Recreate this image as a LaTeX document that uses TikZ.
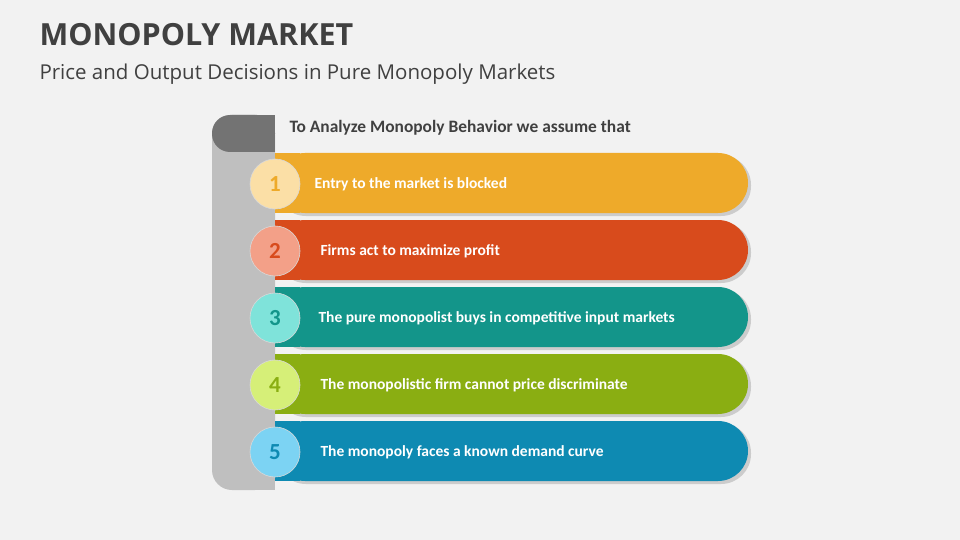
\documentclass[tikz,border=0pt]{standalone}
\usepackage{fontspec}
\setmainfont{Carlito}
\newfontfamily\osans{Open Sans}
\begin{document}
\begin{tikzpicture}[x=1pt,y=-1pt,
  num/.style={circle,minimum size=50pt,inner sep=0pt,font=\bfseries\fontsize{23}{23}\selectfont,draw=white!70!gray,line width=0.6pt},
  lbl/.style={anchor=west,text=white,font=\bfseries\fontsize{15.5}{18}\selectfont}]
\definecolor{bg}{HTML}{F2F2F2}
\definecolor{c1}{HTML}{EEAA2A}\definecolor{c2}{HTML}{D84B1C}\definecolor{c3}{HTML}{13958A}
\definecolor{c4}{HTML}{8AAE12}\definecolor{c5}{HTML}{0E8AB2}
\definecolor{l1}{HTML}{FBDFA6}\definecolor{l2}{HTML}{F3A088}\definecolor{l3}{HTML}{7FE3DA}
\definecolor{l4}{HTML}{D6EF78}\definecolor{l5}{HTML}{7CD3F3}
\fill[bg] (0,0) rectangle (960,540);
\useasboundingbox (0,0) rectangle (960,540);
\node[anchor=west,text=black!75,font=\osans\bfseries\fontsize{30.5}{34}\selectfont] (title) at (36,35) {MONOPOLY MARKET};
\node[anchor=west,text=black!75,font=\osans\fontsize{20.5}{24}\selectfont] (sub) at (36,74) {Price and Output Decisions in Pure Monopoly Markets};
% gray bar
\fill[black!25,rounded corners=20pt] (212,115) rectangle (275,490);
\fill[black!25] (250,115) rectangle (275,490);
\fill[black!55,rounded corners=18pt] (212,115) rectangle (275,152);
\fill[black!55] (250,115) rectangle (275,152);
\node[anchor=west,text=black!75,font=\bfseries\fontsize{17.4}{19}\selectfont] (hdr) at (286,128) {To Analyze Monopoly Behavior we assume that};
\foreach \i/\t/\tx in {1/Entry to the market is blocked/314,2/Firms act to maximize profit/320,3/The pure monopolist buys in competitive input markets/318,4/The monopolistic firm cannot price discriminate/320,5/The monopoly faces a known demand curve/320}{
  \pgfmathsetmacro\yy{153+67*(\i-1)}
  \fill[black!20] (276,\yy+2) [rounded corners=30pt] rectangle (751,\yy+63);
  \fill[c\i,rounded corners=30pt] (275,\yy) rectangle (748,\yy+60);
  \fill[c\i] (275,\yy) rectangle (300,\yy+60);
  \node[lbl] (t\i) at (\tx-3,\yy+31) {\t};
  \node[num,fill=l\i,text=c\i] (n\i) at (275,\yy+31) {\i};
}
\end{tikzpicture}
\end{document}
